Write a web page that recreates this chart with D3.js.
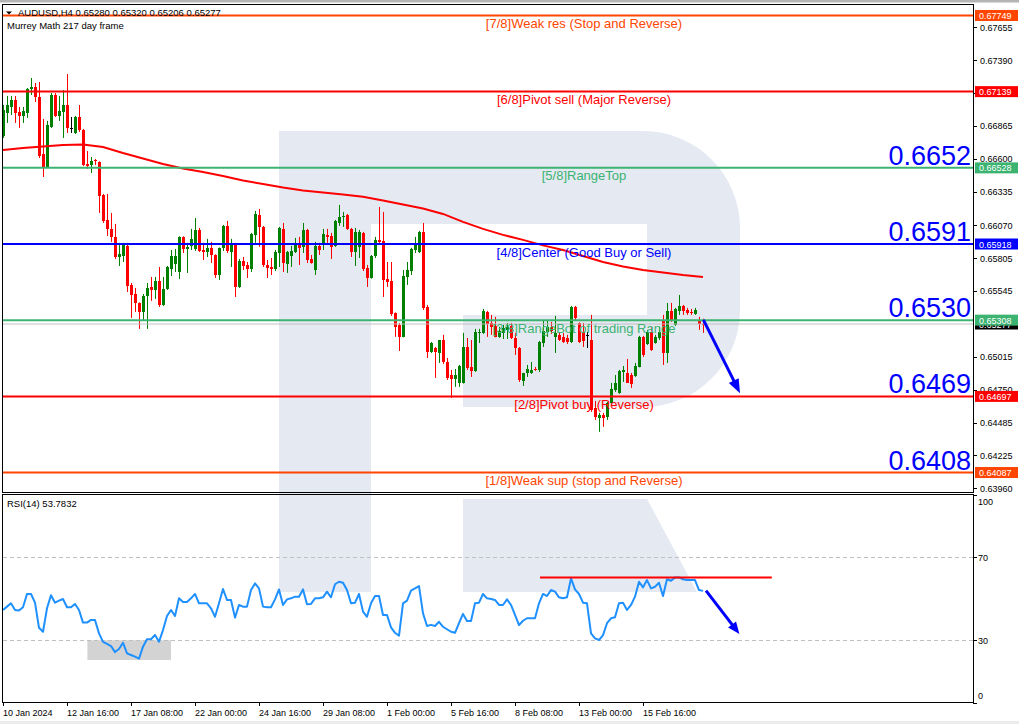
<!DOCTYPE html>
<html><head><meta charset="utf-8">
<script src="https://cdn.jsdelivr.net/npm/d3@7"></script>
<style>
html,body{margin:0;padding:0;background:#fff;}
svg{display:block;font-family:"Liberation Sans",Arial,sans-serif;}
</style></head><body>
<svg id="c" width="1019" height="724"></svg>
<script>
// ---------------- DATA ----------------
const headerText = "AUDUSD,H4  0.65280 0.65320 0.65206 0.65277";
const indicatorName = "Murrey Math 217 day frame";
const rsiName = "RSI(14) 53.7832";

const opens = [
0.66784,0.66968,0.67016,0.67072,0.66976,0.66944,0.66968,0.67160,0.67176,0.67096,
0.66639,0.66535,0.66856,0.67112,0.66944,0.66976,0.67032,0.66848,0.66808,0.66936,
0.66832,0.66559,0.66551,0.66591,0.66575,0.66311,0.66111,0.66039,0.65975,0.65814,
0.65822,0.65903,0.65590,0.65518,0.65446,0.65374,0.65502,0.65574,0.65550,0.65622,
0.65430,0.65558,0.65718,0.65758,0.65694,0.65975,0.65878,0.65903,0.65878,0.66031,
0.65870,0.65854,0.65887,0.65830,0.65670,0.65887,0.66063,0.65854,0.65919,0.65574,
0.65782,0.65750,0.65718,0.65991,0.66151,0.66055,0.65750,0.65734,0.65718,0.65846,
0.66039,0.65758,0.65822,0.65854,0.65911,0.65895,0.66031,0.65798,0.65710,0.65903,
0.65911,0.65991,0.65983,0.65903,0.66087,0.66135,0.66151,0.66039,0.65854,0.65895,
0.66007,0.65726,0.65646,0.65822,0.65951,0.65943,0.65638,0.65622,0.65366,0.65270,
0.65174,0.65654,0.65702,0.65870,0.65854,0.66015,0.65414,0.65053,0.65085,0.65045,
0.65149,0.64973,0.64869,0.64837,0.64805,0.64805,0.65093,0.64933,0.64901,0.65206,
0.65206,0.65374,0.65286,0.65262,0.65174,0.65206,0.65230,0.65262,0.65165,0.65085,
0.64821,0.64885,0.64885,0.64917,0.64909,0.65125,0.65214,0.65254,0.65174,0.65190,
0.65174,0.65165,0.65133,0.65414,0.65286,0.65214,0.65190,0.65149,0.64605,0.64525,
0.64549,0.64533,0.64645,0.64749,0.64725,0.64893,0.64885,0.64869,0.64861,0.64933,
0.65174,0.65117,0.65214,0.65125,0.65165,0.65310,0.65045,0.65382,0.65270,0.65382,
0.65422,0.65390,0.65374,0.65358,0.65302,0.65280];
const highs = [
0.67032,0.67104,0.67104,0.67104,0.67016,0.67016,0.67168,0.67248,0.67208,0.67216,
0.66920,0.66904,0.67128,0.67128,0.67104,0.67152,0.67280,0.66936,0.66944,0.67032,
0.66840,0.66663,0.66615,0.66599,0.66580,0.66319,0.66319,0.66167,0.66079,0.65927,
0.65927,0.65927,0.65606,0.65566,0.65450,0.65518,0.65606,0.65654,0.65654,0.65734,
0.65654,0.65742,0.65870,0.65878,0.65980,0.65980,0.65927,0.66039,0.66127,0.66047,
0.65927,0.65959,0.65935,0.65835,0.65890,0.66071,0.66103,0.65959,0.65927,0.65798,
0.65814,0.65774,0.66007,0.66183,0.66199,0.66063,0.65790,0.65806,0.65870,0.66055,
0.66087,0.65862,0.65903,0.65967,0.65975,0.66087,0.66039,0.65830,0.65935,0.65927,
0.66039,0.66039,0.66007,0.66111,0.66231,0.66175,0.66159,0.66047,0.66047,0.66031,
0.66015,0.65750,0.65830,0.65975,0.66215,0.66175,0.65774,0.65774,0.65370,0.65286,
0.65710,0.65774,0.65887,0.65975,0.66023,0.66087,0.65430,0.65133,0.65093,0.65149,
0.65190,0.65005,0.64909,0.64917,0.64949,0.65206,0.65165,0.65149,0.65238,0.65238,
0.65398,0.65382,0.65350,0.65334,0.65254,0.65270,0.65286,0.65286,0.65206,0.65093,
0.64885,0.64949,0.64973,0.64933,0.65141,0.65302,0.65302,0.65294,0.65342,0.65206,
0.65206,0.65190,0.65422,0.65422,0.65290,0.65286,0.65214,0.65350,0.64661,0.64565,
0.64565,0.64653,0.64805,0.64869,0.64909,0.64941,0.64997,0.64885,0.64965,0.65182,
0.65182,0.65230,0.65254,0.65190,0.65254,0.65350,0.65446,0.65446,0.65406,0.65510,
0.65430,0.65406,0.65398,0.65406,0.65334,0.65320];
const lows = [
0.66768,0.66888,0.66952,0.66888,0.66848,0.66888,0.66928,0.67112,0.67056,0.66607,
0.66455,0.66530,0.66848,0.66936,0.66904,0.66768,0.66808,0.66808,0.66800,0.66816,
0.66543,0.66519,0.66487,0.66551,0.66167,0.66087,0.65983,0.65935,0.65798,0.65742,
0.65774,0.65534,0.65326,0.65374,0.65238,0.65310,0.65238,0.65462,0.65478,0.65414,
0.65422,0.65550,0.65662,0.65694,0.65638,0.65846,0.65686,0.65870,0.65862,0.65854,
0.65790,0.65814,0.65766,0.65646,0.65630,0.65862,0.65846,0.65734,0.65494,0.65566,
0.65710,0.65646,0.65694,0.65927,0.65895,0.65734,0.65646,0.65670,0.65702,0.65734,
0.65694,0.65686,0.65734,0.65846,0.65750,0.65846,0.65766,0.65760,0.65670,0.65830,
0.65870,0.65927,0.65798,0.65895,0.66063,0.66055,0.66031,0.65814,0.65742,0.65806,
0.65702,0.65574,0.65640,0.65806,0.65927,0.65494,0.65574,0.65342,0.65174,0.65061,
0.65170,0.65590,0.65670,0.65846,0.65846,0.65390,0.65005,0.65045,0.64845,0.64965,
0.64957,0.64829,0.64685,0.64773,0.64773,0.64800,0.64909,0.64853,0.64893,0.65125,
0.65198,0.65174,0.65190,0.65170,0.65166,0.65157,0.65157,0.65157,0.65029,0.64813,
0.64781,0.64853,0.64877,0.64901,0.64893,0.65093,0.65174,0.65198,0.65045,0.65141,
0.65125,0.65117,0.65125,0.65302,0.65125,0.65093,0.65085,0.64573,0.64509,0.64413,
0.64453,0.64509,0.64640,0.64733,0.64717,0.64813,0.64805,0.64765,0.64853,0.64930,
0.65013,0.65109,0.65061,0.65120,0.65149,0.64949,0.64965,0.65294,0.65262,0.65350,
0.65350,0.65350,0.65350,0.65350,0.65230,0.65206];
const closes = [
0.66992,0.67032,0.67072,0.66968,0.66944,0.66984,0.67160,0.67176,0.67096,0.66623,
0.66535,0.66872,0.67112,0.66944,0.66984,0.67032,0.66848,0.66848,0.66936,0.66832,
0.66551,0.66543,0.66583,0.66583,0.66303,0.66103,0.66039,0.65975,0.65814,0.65838,
0.65919,0.65582,0.65510,0.65446,0.65374,0.65502,0.65566,0.65550,0.65622,0.65430,
0.65558,0.65734,0.65822,0.65822,0.65975,0.65878,0.65895,0.65959,0.66031,0.65862,
0.65854,0.65887,0.65830,0.65670,0.65887,0.66063,0.65862,0.65919,0.65574,0.65782,
0.65742,0.65718,0.65999,0.66159,0.66055,0.65750,0.65726,0.65718,0.65854,0.66047,
0.65766,0.65854,0.65862,0.65927,0.65887,0.66031,0.65790,0.65766,0.65903,0.65870,
0.65999,0.65975,0.65895,0.66103,0.66135,0.66143,0.66039,0.65854,0.66015,0.66015,
0.65718,0.65646,0.65822,0.65951,0.65935,0.65630,0.65614,0.65358,0.65254,0.65174,
0.65662,0.65710,0.65878,0.65927,0.66015,0.65406,0.65053,0.65125,0.65053,0.65149,
0.64973,0.64845,0.64837,0.64869,0.64941,0.65093,0.64925,0.64901,0.65214,0.65214,
0.65382,0.65278,0.65254,0.65174,0.65222,0.65246,0.65254,0.65165,0.65085,0.64829,
0.64885,0.64917,0.64909,0.64909,0.65133,0.65222,0.65254,0.65222,0.65206,0.65149,
0.65133,0.65133,0.65414,0.65326,0.65133,0.65141,0.65190,0.64589,0.64533,0.64549,
0.64525,0.64645,0.64757,0.64805,0.64901,0.64909,0.64805,0.64797,0.64941,0.65174,
0.65029,0.65214,0.65069,0.65174,0.65214,0.65045,0.65382,0.65310,0.65398,0.65422,
0.65382,0.65366,0.65366,0.65390,0.65278,0.65277];

const maIndex  = [0,5,10,15,20,25,30,35,40,45,50,55,60,65,70,75,80,85,90,95,100,105,110,115,120,125,130,135,140,145,150,155,160,165,170,175];
const maValues = [0.66671,0.66687,0.66700,0.66711,0.66715,0.66695,0.66647,0.66603,0.66559,0.66523,0.66495,0.66463,0.66427,0.66399,0.66371,0.66347,0.66331,0.66315,0.66297,0.66267,0.66235,0.66203,0.66159,0.66095,0.66039,0.65991,0.65951,0.65907,0.65870,0.65822,0.65774,0.65738,0.65710,0.65690,0.65670,0.65654];

const rsiValues = [
44.6,46.2,47.8,44.6,44.3,45.9,52.3,52.3,48.1,36.0,
34.1,45.4,51.7,48.1,49.1,49.9,45.9,45.9,47.5,44.6,
38.5,38.5,39.8,39.8,33.3,29.2,28.2,27.2,24.3,25.8,
28.8,23.7,22.9,22.1,21.1,26.9,30.5,30.5,32.5,29.3,
34.9,41.7,44.6,41.7,50.2,48.4,48.4,50.2,52.3,47.8,
47.8,47.8,45.4,41.3,47.8,54.7,49.4,49.4,40.9,47.0,
46.2,46.2,54.2,57.4,55.0,46.2,45.9,45.9,49.7,54.5,
47.0,49.7,50.2,51.0,51.0,54.5,47.3,47.5,50.2,50.2,
50.7,53.4,50.7,57.0,58.2,57.7,54.2,47.8,48.1,52.3,
43.8,41.3,47.8,51.3,51.3,42.2,42.2,36.2,33.6,32.2,
47.8,49.1,53.9,55.0,56.1,43.0,36.9,37.4,36.9,38.9,
36.5,35.3,34.1,33.6,38.2,42.7,39.3,39.3,47.8,48.1,
52.3,50.2,49.9,49.4,47.0,47.0,49.7,47.0,42.2,37.3,
39.4,40.6,40.6,40.6,47.8,52.3,51.3,54.2,53.4,50.7,
50.2,50.7,59.8,54.5,52.3,48.1,47.8,33.3,30.9,30.1,
32.5,38.2,40.6,41.1,47.8,48.1,44.6,47.0,51.0,58.2,
55.5,59.0,55.0,55.8,57.7,51.3,59.4,58.7,60.3,60.3,
59.4,59.0,59.0,59.0,54.2,53.8];

const timeIndex  = [0,16,32,48,64,80,96,112,128,144,160];
const timeLabels = ["10 Jan 2024","12 Jan 16:00","17 Jan 08:00","22 Jan 00:00","24 Jan 16:00","29 Jan 08:00","1 Feb 00:00","5 Feb 16:00","8 Feb 08:00","13 Feb 00:00","15 Feb 16:00"];

const priceTicks = [0.67655,0.67390,0.67125,0.66865,0.66600,0.66335,0.66070,0.65805,0.65545,0.65015,0.64750,0.64485,0.64225,0.63960];

const levelValues = [0.67749,0.67139,0.66528,0.65918,0.65308,0.64697,0.64087];
const levelNames  = ["[7/8]Weak res (Stop and Reverse)","[6/8]Pivot sell (Major Reverse)","[5/8]RangeTop","[4/8]Center (Good Buy or Sell)","[3/8]RangeBot of trading Range","[2/8]Pivot buy (Reverse)","[1/8]Weak sup (stop and Reverse)"];
const levelColors = ["#ff4500","#ff0000","#3cb371","#0000ff","#3cb371","#ff0000","#ff4500"];
const levelTags   = ["0.67749","0.67139","0.66528","0.65918","0.65308","0.64697","0.64087"];

const bigLevelIdx = [2,3,4,5,6];
const bigLabels   = ["0.6652","0.6591","0.6530","0.6469","0.6408"];

const lastPrice = 0.65277;
const lastPriceTag = "0.65277";

const rsiTicks  = [100,70,30,0];
const rsiLevels = [70,30];

// annotations (bar index, value)
const mainArrowFrom = [175.1, 0.65310], mainArrowTo = [184.25, 0.64723];
const rsiArrowFrom  = [175.75, 53.9],   rsiArrowTo  = [184.1, 33.0];
const rsiResFrom = 134.25, rsiResTo = 192.2, rsiResValue = 60.3;
const rsiBoxFrom = 21.1, rsiBoxTo = 42, rsiBoxLow = 20.5, rsiBoxHigh = 30;

// ---------------- LAYOUT ----------------
const W = 1019, H = 724;
const L = 2.5, R = 973.5;
const mainTop = 4.5, mainBot = 492.5, rsiTop = 494.5, rsiBot = 702.5;

const svg = d3.select("#c");
svg.append("rect").attr("width",W).attr("height",H).attr("fill","#fff");
svg.append("rect").attr("x",0).attr("y",0).attr("width",W).attr("height",2.5).attr("fill","#b4b4b4");
svg.append("rect").attr("x",0).attr("y",721).attr("width",W).attr("height",3).attr("fill","#ececec");

const x = d3.scaleLinear().domain([0, 242.5]).range([3, 973]);
const y = d3.scaleLinear().domain([0.63923, 0.67841]).range([493, 4]);
const yr = d3.scaleLinear().domain([0, 100]).range([702.5, 495]);

// watermark logo (decorative)
const wm = svg.append("g").attr("fill","#e4e9f2");
wm.append("path").attr("d","M279,131 H643 A97,97 0 0 1 740,228 V310 A97,97 0 0 1 643,407 H463 V315 H647 V224 H371 V592 H279 Z");
wm.append("path").attr("d","M463,499 H647 L697,592 H463 Z");

const defs = svg.append("defs");
defs.append("clipPath").attr("id","cm").append("rect").attr("x",3).attr("y",5).attr("width",970).attr("height",487.5);
defs.append("clipPath").attr("id","cr").append("rect").attr("x",3).attr("y",495).attr("width",970).attr("height",207.5);

// -------- main pane --------
const gm = svg.append("g").attr("clip-path","url(#cm)");

// header texts
svg.append("path").attr("d","M6,11.5 L12,11.5 L9,14.5 Z").attr("fill","#000");
svg.append("text").attr("x",18).attr("y",16).attr("font-size",9.5).attr("fill","#000").text(headerText);
svg.append("text").attr("x",7).attr("y",28.5).attr("font-size",9.5).attr("fill","#000").text(indicatorName);

const candles = opens.map((o,i)=>({i, o, h:highs[i], l:lows[i], c:closes[i]}));
const ccol = d => d.c > d.o ? "#008000" : (d.c < d.o ? "#ff0000" : "#000000");

gm.selectAll("line.wick").data(candles).join("line").attr("class","wick")
  .attr("x1", d => Math.round(x(d.i)) + 0.5).attr("x2", d => Math.round(x(d.i)) + 0.5)
  .attr("y1", d => y(d.h)).attr("y2", d => y(d.l))
  .attr("stroke", ccol).attr("stroke-width",1);
gm.selectAll("rect.body").data(candles).join("rect").attr("class","body")
  .attr("x", d => Math.round(x(d.i)) - 1).attr("width", 3)
  .attr("y", d => Math.round(y(Math.max(d.o,d.c))))
  .attr("height", d => Math.max(1, Math.round(Math.abs(y(d.o) - y(d.c)))))
  .attr("fill", ccol).attr("shape-rendering","crispEdges");

// moving average
const maData = maIndex.map((k,j)=>[k, maValues[j]]);
gm.append("path").datum(maData)
  .attr("d", d3.line().x(d=>x(d[0])).y(d=>y(d[1])))
  .attr("fill","none").attr("stroke","#ff0000").attr("stroke-width",2);

// current price line
gm.append("line").attr("x1",3).attr("x2",973).attr("y1",y(lastPrice)).attr("y2",y(lastPrice))
  .attr("stroke","#c0c0c0").attr("stroke-width",1);

// Murrey levels
gm.selectAll("line.lvl").data(levelValues).join("line").attr("class","lvl")
  .attr("x1",3).attr("x2",973).attr("y1",d=>y(d)).attr("y2",d=>y(d))
  .attr("stroke",(d,i)=>levelColors[i]).attr("stroke-width",2);

gm.selectAll("text.lvl").data(levelValues).join("text").attr("class","lvl")
  .attr("x",584).attr("y",d=>y(d)+12.5).attr("text-anchor","middle")
  .attr("font-size",13).attr("fill",(d,i)=>levelColors[i]).text((d,i)=>levelNames[i]);

gm.selectAll("text.big").data(bigLevelIdx).join("text").attr("class","big")
  .attr("x",971).attr("y",d=>y(levelValues[d])-3).attr("text-anchor","end")
  .attr("font-size",27).attr("fill","#0000ff").text((d,i)=>bigLabels[i]);

// arrow helper
function arrow(g, x0, y0, x1, y1, w, hl, hw) {
  const dx = x1-x0, dy = y1-y0, len = Math.hypot(dx,dy), ux = dx/len, uy = dy/len;
  const bx = x1 - ux*hl, by = y1 - uy*hl, px = -uy, py = ux;
  g.append("line").attr("x1",x0).attr("y1",y0).attr("x2",bx+ux*2).attr("y2",by+uy*2)
    .attr("stroke","#0000ff").attr("stroke-width",w);
  g.append("path").attr("d",`M${x1},${y1} L${bx+px*hw},${by+py*hw} L${bx-px*hw},${by-py*hw} Z`).attr("fill","#0000ff");
}
arrow(svg, x(mainArrowFrom[0]), y(mainArrowFrom[1]), x(mainArrowTo[0]), y(mainArrowTo[1]), 3, 14, 5.5);

// -------- RSI pane --------
const gr = svg.append("g").attr("clip-path","url(#cr)");
gr.append("rect").attr("x",x(rsiBoxFrom)).attr("width",x(rsiBoxTo)-x(rsiBoxFrom))
  .attr("y",yr(rsiBoxHigh)).attr("height",yr(rsiBoxLow)-yr(rsiBoxHigh)).attr("fill","#d3d3d3");
gr.selectAll("line.rl").data(rsiLevels).join("line").attr("class","rl")
  .attr("x1",3).attr("x2",973).attr("y1",d=>Math.round(yr(d))+0.5).attr("y2",d=>Math.round(yr(d))+0.5)
  .attr("stroke","#c0c0c0").attr("stroke-dasharray","4,3");
gr.append("path").datum(rsiValues)
  .attr("d", d3.line().x((d,i)=>x(i)).y(d=>yr(d)))
  .attr("fill","none").attr("stroke","#1e90ff").attr("stroke-width",2).attr("stroke-linejoin","round");
gr.append("line").attr("x1",x(rsiResFrom)).attr("x2",x(rsiResTo)).attr("y1",yr(rsiResValue)).attr("y2",yr(rsiResValue))
  .attr("stroke","#ff0000").attr("stroke-width",2);
arrow(svg, x(rsiArrowFrom[0]), yr(rsiArrowFrom[1]), x(rsiArrowTo[0]), yr(rsiArrowTo[1]), 3, 12, 5);
svg.append("text").attr("x",7).attr("y",507).attr("font-size",9.5).attr("fill","#000").text(rsiName);

// -------- frames --------
const fr = svg.append("g").attr("fill","none").attr("stroke","#000").attr("stroke-width",1);
fr.append("rect").attr("x",L).attr("y",mainTop).attr("width",R-L).attr("height",mainBot-mainTop);
fr.append("rect").attr("x",L).attr("y",rsiTop).attr("width",R-L).attr("height",rsiBot-rsiTop);

// -------- price axis --------
const ax = svg.append("g").attr("font-size",9).attr("fill","#000");
ax.selectAll("line").data(priceTicks).join("line")
  .attr("x1",973).attr("x2",977).attr("y1",d=>Math.round(y(d))+0.5).attr("y2",d=>Math.round(y(d))+0.5).attr("stroke","#000");
ax.selectAll("text").data(priceTicks).join("text")
  .attr("x",980).attr("y",d=>y(d)+3.5).text(d=>d.toFixed(5));

// current price tag (black) then level tags
svg.append("rect").attr("x",975).attr("y",y(lastPrice)-5.5).attr("width",43).attr("height",11).attr("fill","#000");
svg.append("text").attr("x",979).attr("y",y(lastPrice)+3.5).attr("font-size",9).attr("fill","#fff").text(lastPriceTag);
const tags = svg.append("g");
levelValues.forEach((v,i)=>{
  tags.append("rect").attr("x",975).attr("y",y(v)-5.5).attr("width",43).attr("height",11).attr("fill",levelColors[i]);
  tags.append("text").attr("x",979).attr("y",y(v)+3.5).attr("font-size",9).attr("fill","#fff").text(levelTags[i]);
});

// RSI axis
const ar = svg.append("g").attr("font-size",9).attr("fill","#000");
ar.selectAll("line").data(rsiTicks).join("line")
  .attr("x1",973).attr("x2",977).attr("y1",d=>Math.round(yr(d))+0.5).attr("y2",d=>Math.round(yr(d))+0.5).attr("stroke","#000");
ar.selectAll("text").data(rsiTicks).join("text")
  .attr("x",978).attr("y",d=>Math.min(699, Math.max(505, yr(d)+3.5))).text(d=>d);

// time axis
const at = svg.append("g").attr("font-size",9).attr("fill","#000");
at.selectAll("line").data(timeIndex).join("line")
  .attr("x1",d=>Math.round(x(d))+0.5).attr("x2",d=>Math.round(x(d))+0.5).attr("y1",702).attr("y2",706).attr("stroke","#000");
at.selectAll("text").data(timeIndex).join("text")
  .attr("x",d=>x(d)).attr("y",715.5).text((d,i)=>timeLabels[i]);
</script>
</body></html>
